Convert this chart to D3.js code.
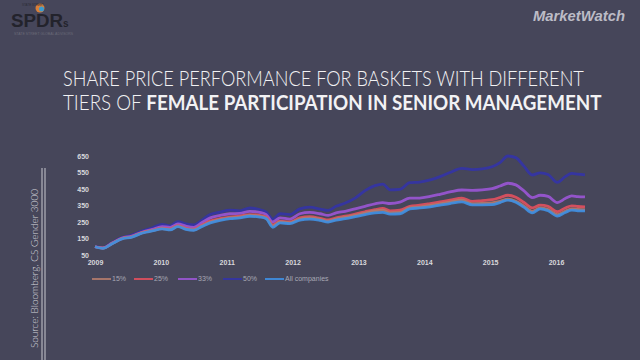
<!DOCTYPE html>
<html><head><meta charset="utf-8">
<script src="https://cdn.jsdelivr.net/npm/d3@7/dist/d3.min.js"></script>
<style>
html,body{margin:0;padding:0;background:#46465a;}
svg{display:block;}
</style></head>
<body>
<svg id="c" width="640" height="360"></svg>
<script>
// ---- data ----
const years = [2009, 2010, 2011, 2012, 2013, 2014, 2015, 2016];
const yTicks = [50, 150, 250, 350, 450, 550, 650];
const seriesNames = ["15%", "25%", "33%", "50%", "All companies"];
const t = [2009.00,2009.12,2009.26,2009.41,2009.56,2009.71,2009.87,2010.02,2010.14,2010.26,2010.38,2010.50,2010.62,2010.75,2010.90,2011.05,2011.20,2011.35,2011.50,2011.60,2011.70,2011.81,2011.96,2012.11,2012.26,2012.42,2012.54,2012.66,2012.80,2012.95,2013.10,2013.25,2013.37,2013.48,2013.63,2013.78,2013.93,2014.09,2014.24,2014.39,2014.57,2014.73,2014.88,2015.03,2015.15,2015.27,2015.39,2015.51,2015.64,2015.76,2015.88,2016.02,2016.14,2016.24,2016.33,2016.44];
const s50 = [100,95,125,155,170,195,215,235,228,252,238,232,260,295,310,322,318,335,325,310,268,300,295,330,340,328,320,345,365,395,440,470,480,445,448,488,492,505,525,550,575,568,572,585,610,650,640,590,535,548,538,490,525,545,540,535];
const s33 = [100,93,122,152,165,188,205,222,218,238,225,218,245,275,290,300,302,315,308,295,250,275,268,300,308,300,290,305,315,330,345,360,368,362,370,395,395,405,418,432,444,442,445,452,468,485,475,440,398,412,405,368,392,408,404,402];
const s25 = [100,92,120,150,162,185,200,212,208,228,212,206,230,255,270,280,285,295,290,280,232,255,250,275,282,272,262,275,285,298,312,325,332,318,322,345,352,362,372,382,395,375,380,385,398,412,400,370,336,352,345,312,335,348,344,341];
const s15 = [100,92,120,150,160,184,198,210,205,225,208,202,226,250,265,275,280,290,285,274,225,250,245,268,275,265,255,268,278,290,304,318,322,305,308,335,340,350,360,370,382,360,362,366,375,388,375,348,315,335,325,295,315,330,326,323];
const sAll = [100,90,118,148,158,182,196,208,202,222,205,200,222,245,260,270,275,285,280,270,218,245,240,262,268,260,250,262,270,282,295,305,308,298,300,330,335,342,352,362,372,354,354,355,368,382,370,340,305,330,318,286,308,322,318,317];
const seriesValues = [s15, s25, s33, s50, sAll];
const colors = ["#b27b6c", "#e0505e", "#9a56d4", "#3434a6", "#3f8fe2"];

const svg = d3.select("#c");
svg.append("rect").attr("width",640).attr("height",360).attr("fill","#46465a");

// logos
const spdr = svg.append("g");
spdr.append("circle").attr("cx",40).attr("cy",8).attr("r",4.5).attr("fill","#d9803a");
spdr.append("circle").attr("cx",41.5).attr("cy",9).attr("r",2.5).attr("fill","#3a9bd0");
spdr.append("text").attr("x",22).attr("y",6).attr("font-size",3).attr("fill","#2c2c36")
  .attr("font-family","Liberation Sans").text("STATE STREET");
spdr.append("text").attr("x",11).attr("y",27).attr("font-family","Liberation Sans, Arial")
  .attr("font-weight","bold").attr("font-size",19).attr("fill","#23232c")
  .attr("textLength",52).attr("lengthAdjust","spacingAndGlyphs").text("SPDR");
spdr.append("text").attr("x",63).attr("y",27).attr("font-family","Liberation Sans, Arial")
  .attr("font-weight","bold").attr("font-size",10).attr("fill","#23232c").text("s");
spdr.append("text").attr("x",14).attr("y",35).attr("font-size",3.5).attr("fill","#6a6a78")
  .attr("font-family","Liberation Sans").text("STATE STREET GLOBAL ADVISORS");

svg.append("text").attr("x",533).attr("y",21).attr("font-family","Liberation Sans, Arial")
  .attr("font-weight","bold").attr("font-style","italic").attr("font-size",14)
  .attr("fill","#bcbcc6").attr("textLength",92).attr("lengthAdjust","spacingAndGlyphs")
  .text("MarketWatch");

// title
function fitText(sel, x0, x1){
  const w = sel.node().getComputedTextLength();
  const k = (x1 - x0) / w;
  sel.attr("transform", `translate(${x0},0) scale(${k},1) translate(${-x0},0)`);
}
const tf = "Lato, 'Open Sans', sans-serif";
const t1 = svg.append("text").attr("x",63).attr("y",86).attr("font-family",tf)
  .attr("font-weight",300).attr("font-size",21).attr("fill","#f2f2f4")
  .text("SHARE PRICE PERFORMANCE FOR BASKETS WITH DIFFERENT");
fitText(t1, 63, 584);
const t2 = svg.append("text").attr("x",63).attr("y",110).attr("font-family",tf)
  .attr("font-size",21).attr("fill","#f2f2f4");
t2.append("tspan").attr("font-weight",300).text("TIERS OF ");
t2.append("tspan").attr("font-weight","bold").text("FEMALE PARTICIPATION IN SENIOR MANAGEMENT");
fitText(t2, 63, 602);

// source + vertical lines
svg.append("text").attr("transform","translate(38,189) rotate(-90)")
  .attr("text-anchor","end").attr("font-family",tf).attr("font-weight",300)
  .attr("font-size",10).attr("fill","#d4d4da")
  .text("Source: Bloomberg, CS Gender 3000");
[42,45].forEach(xx => svg.append("line").attr("x1",xx).attr("x2",xx).attr("y1",168).attr("y2",360)
  .attr("stroke","#d8d8de").attr("stroke-width",0.9));

// scales
const x = d3.scaleLinear().domain([2009, 2016]).range([95, 556]);
const y = d3.scaleLinear().domain([50, 650]).range([255, 156]);

const af = "Liberation Sans, Arial, sans-serif";
const yAxis = svg.append("g").attr("transform","translate(89,0)")
  .call(d3.axisLeft(y).tickValues(yTicks).tickSize(0).tickPadding(0).tickFormat(d3.format("d")));
yAxis.select(".domain").remove();
yAxis.selectAll("text").attr("font-family",af).attr("font-weight","bold").attr("font-size",7)
  .attr("fill","#d8d8dc");

const xAxis = svg.append("g").attr("transform","translate(0,260)")
  .call(d3.axisBottom(x).tickValues(years).tickSize(0).tickPadding(0).tickFormat(d3.format("d")));
xAxis.select(".domain").remove();
xAxis.selectAll("text").attr("font-family",af).attr("font-weight","bold").attr("font-size",7)
  .attr("fill","#d8d8dc");

// lines
const line = d3.line().x((d,i) => x(t[i])).y(d => y(d)).curve(d3.curveMonotoneX);
const order = [3, 2, 1, 0, 4];
order.forEach(k => {
  svg.append("path").datum(seriesValues[k]).attr("d", line)
    .attr("fill","none").attr("stroke", colors[k]).attr("stroke-width",2.8)
    .attr("stroke-linejoin","round").attr("stroke-opacity",0.92);
});

// legend
const legX = [92, 134, 178, 223, 265];
const leg = svg.append("g");
seriesNames.forEach((n,i) => {
  const g = leg.append("g").attr("transform",`translate(${legX[i]},279)`);
  g.append("line").attr("x1",0).attr("x2",19).attr("stroke",colors[i]).attr("stroke-width",1.8);
  g.append("text").attr("x",20).attr("y",0).attr("dy","0.35em").attr("font-family",af)
    .attr("font-size",7).attr("fill","#a8a8b4").text(n);
});
</script>
</body></html>
